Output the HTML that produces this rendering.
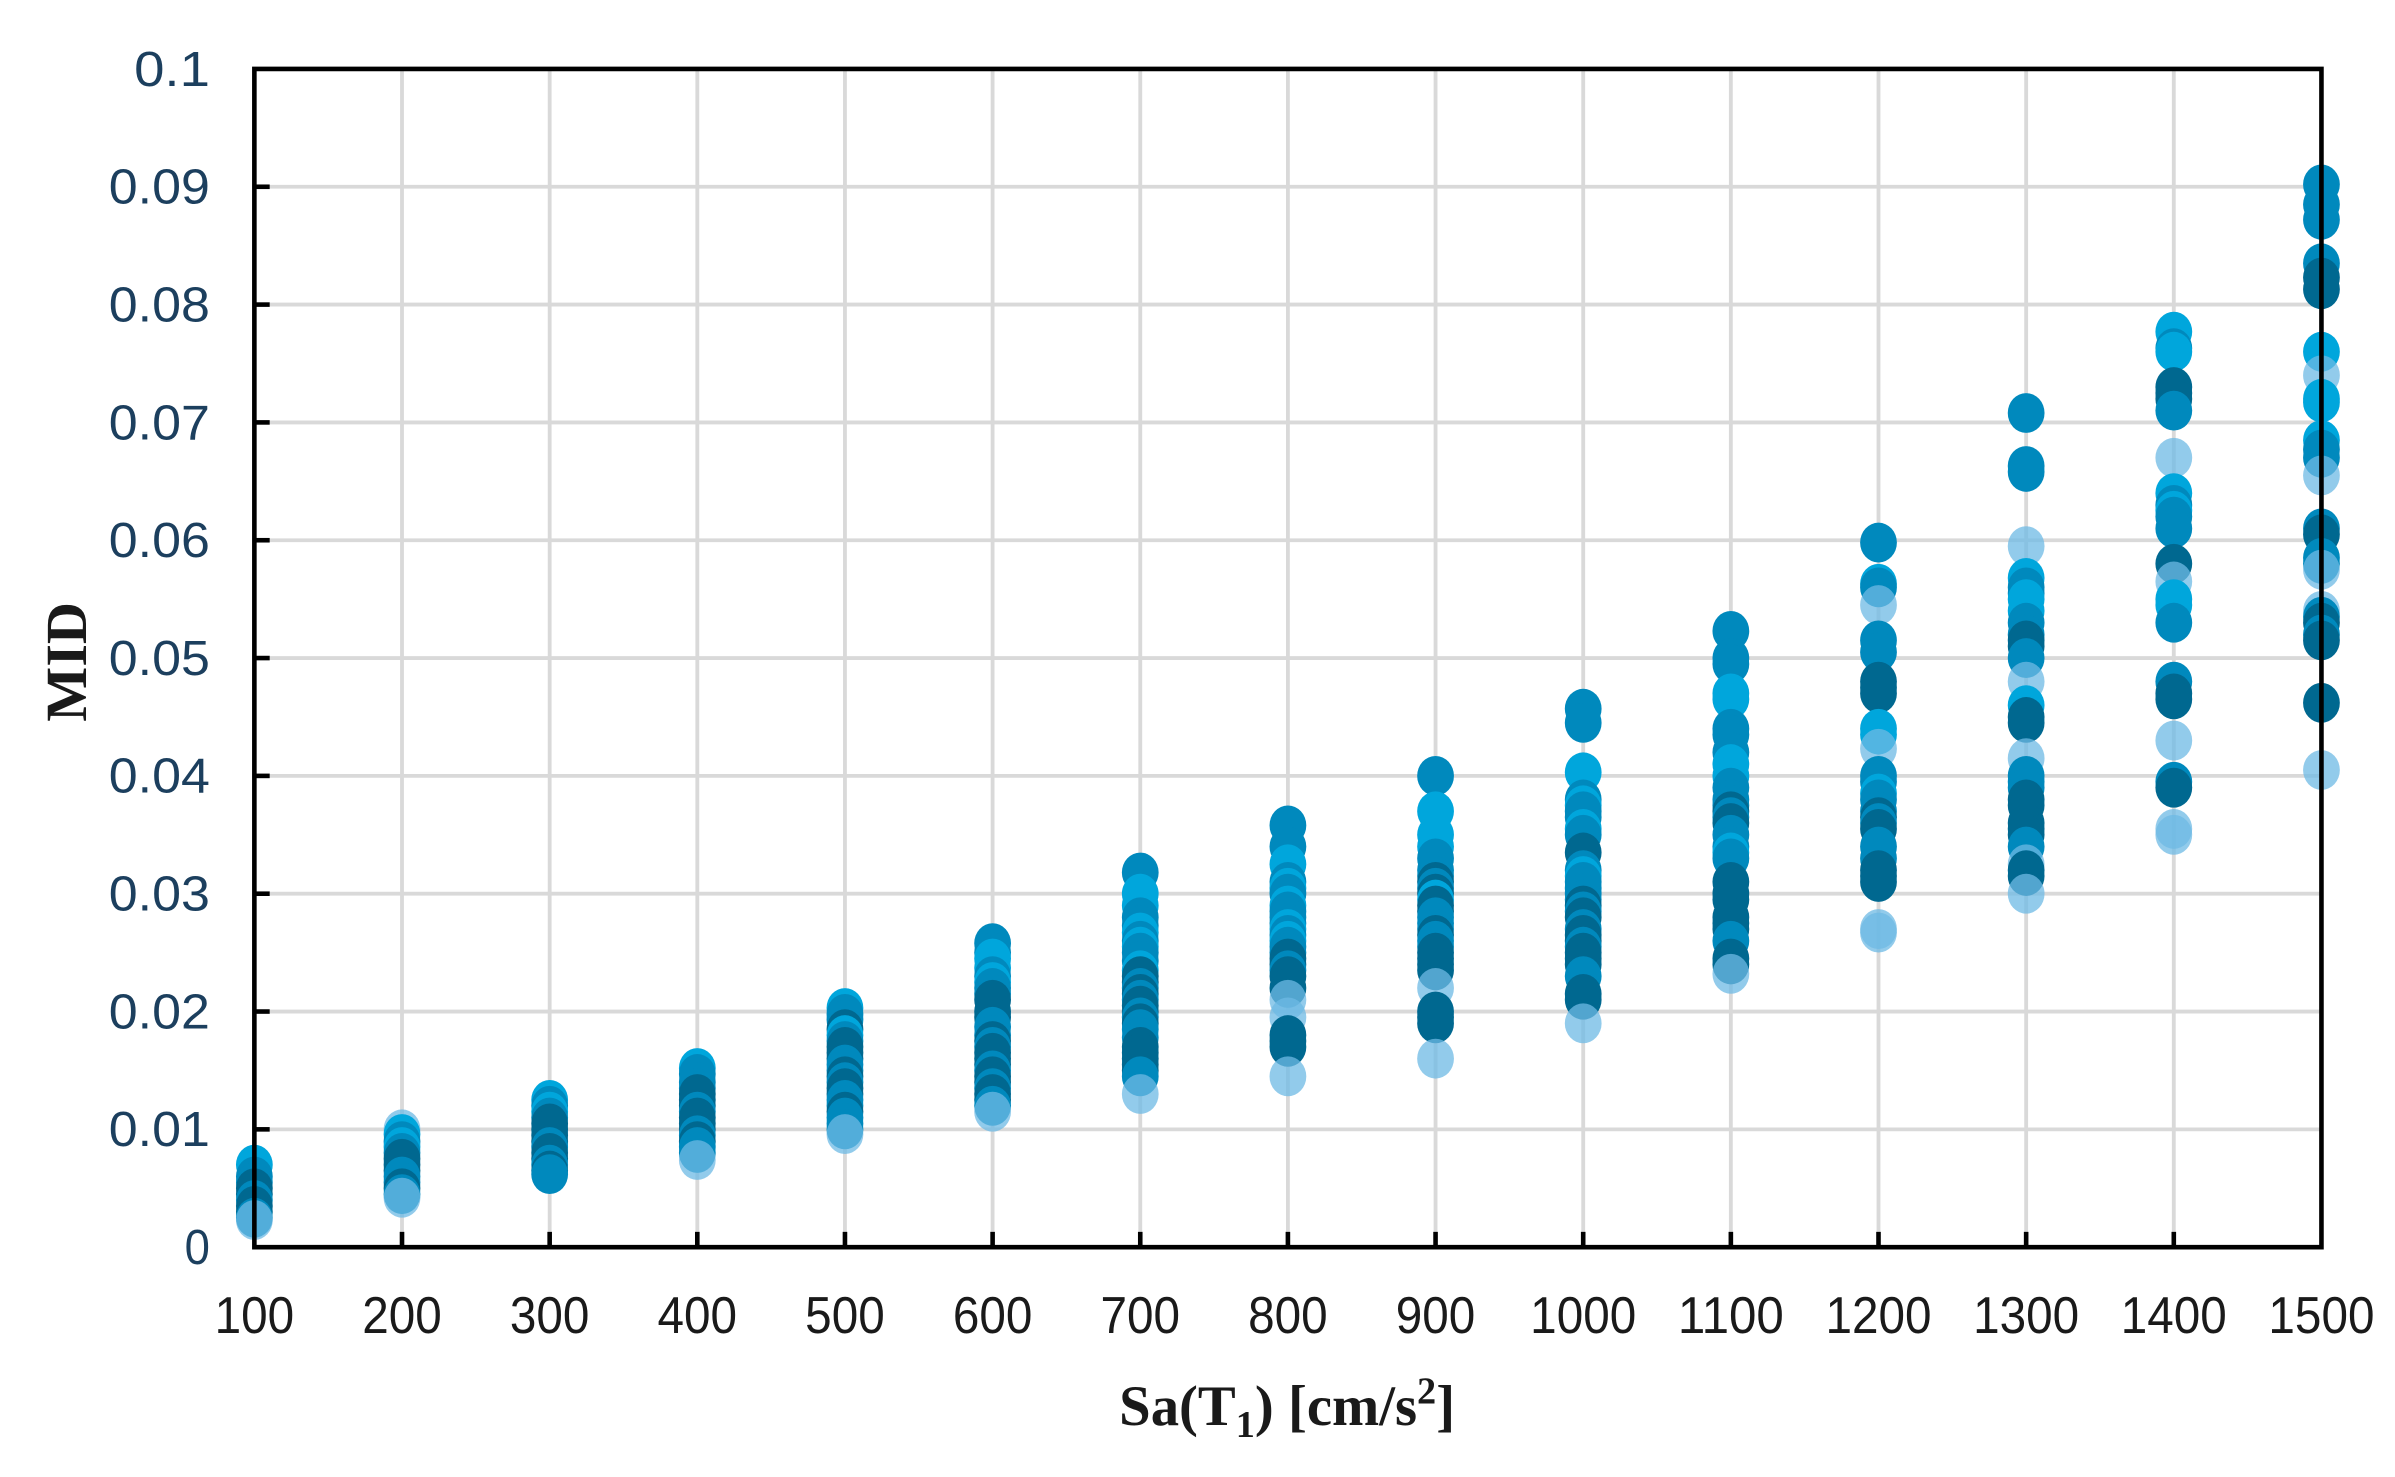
<!DOCTYPE html>
<html><head><meta charset="utf-8"><style>
html,body{margin:0;padding:0;background:#fff;width:2395px;height:1477px;overflow:hidden}
svg{display:block}
</style></head><body>
<svg id="s" width="2395" height="1477" viewBox="0 0 1563 964" preserveAspectRatio="none" xmlns="http://www.w3.org/2000/svg">
<g id="grid" stroke="#d9d9d9" stroke-width="2.5"></g>
<g id="dots"></g>
<g id="axes"></g>
<g id="labels"></g>
<text x="840" y="930" text-anchor="middle" font-family="Liberation Serif, serif" font-weight="bold" font-size="37" fill="#1a1a1a">Sa(T<tspan font-size="25" dy="8">1</tspan><tspan dy="-8">) [cm/s</tspan><tspan font-size="25" dy="-14">2</tspan><tspan dy="14">]</tspan></text>
<text transform="translate(56,432) rotate(-90)" text-anchor="middle" font-family="Liberation Serif, serif" font-weight="bold" font-size="38" fill="#1a1a1a">MID</text>
</svg>
<script>
const NS="http://www.w3.org/2000/svg";
const L=166,R=1515,T=45,B=814;
const X=v=>L+(v-100)/1400*(R-L), Y=v=>B-v/0.1*(B-T);
function el(p,t,a){const e=document.createElementNS(NS,t);for(const k in a)e.setAttribute(k,a[k]);document.getElementById(p).appendChild(e);return e;}
for(let v=200;v<=1400;v+=100)el("grid","line",{x1:X(v),x2:X(v),y1:T,y2:B});
for(let i=1;i<10;i++)el("grid","line",{x1:L,x2:R,y1:Y(i/100),y2:Y(i/100)});
const C={m:"#0089bd",d:"#006890",b:"#00a6dc",l:"rgba(110,185,228,0.75)"};
const data={
100:"b7 m6 m5.5 d5 d4.5 m4 d3.5 d3 m2.5 l2.3",
200:"l10 b9.6 m9 b8.5 m8 d7.5 d7 d6.5 m6 m5.5 d5 m4.5 l4.2",
300:"b12.5 m12 b11.5 m11 d10.5 d10 d9.5 d9 m8.5 d8 d7.5 m7 d6.5 m6.2",
400:"b15.2 m14.7 m14 m13.5 d13 d12.5 d12 m11.5 d11 d10.5 d10 m9.5 d9 m8.5 m8 l7.4",
500:"b20.3 m19.8 m19.3 d18.5 b18 m17.5 d17 d16.5 d16 m15.5 m15 d14.5 m14 d13.5 d13 m12.5 m12 d11.5 m11 m10.5 m10 l9.6",
600:"m25.8 m25 b24.5 b23.7 m23 b22.5 m22 m21.5 d21 d20 d19.5 m18.7 m18 d17.5 m17 d16.5 d16 d15.5 m15 d14.5 d14 m13.5 d13 d12.5 m12 l11.5",
700:"m31.8 b30 b29 m28 m27.3 b26.7 m26 b25.5 m25 m24.3 b23.5 d23 d22.5 m22 d21.5 m21 d20.5 d20 m19.5 d19 m18.5 m17.8 d17 d16.5 d16 d15.5 d15 m14.5 l13",
800:"m35.8 m34 b32.5 m31 b30.5 m30 b29 m28.5 m28 m27.5 b27 m26.5 b26 m25.5 m25 d24.5 d24 m23.5 d23 d22 l21 l19.5 d18 d17.5 d17 l14.5",
900:"m40 b37 b35 b34 m33 m32 m31.5 d31 m30.5 d30 b29.5 d29 d28.5 m28 m27.5 m27 d26.5 m26 m25.5 d25 d24.5 d24 d23.5 l22 d20 d19.5 d19 l16",
1000:"m45.7 m44.5 b40.3 m38 b37.5 m37 m36.5 b35.5 m35 d33.5 m32 b31.5 m31 m30.5 m30 m29.5 d29 m28.5 d28 m27 d26.5 d26 m25.5 d25 d24.5 d24 m23 d21.5 d21 l19",
1100:"m52.3 m50 m49.5 b47 b46.5 m44 m43.5 m42 b41 b40 m39 m38 m37.5 d37 m36.5 d36 m35 m34 b33.5 m33 d31 d30 d29.5 d28 d27.5 d27 m26 d24.5 d24 l23.2",
1200:"m59.8 b56.3 m56 l54.5 m51.5 m50.5 d48 d47.5 d47 b44 b43.5 l42.3 m40 m39.5 b38.5 m38 m37 d36.5 m36 d35.5 m34 m33 d32 d31.5 d31 l27 l26.7",
1300:"m70.8 m66.3 m65.8 l59.5 b56.8 m56 m55.5 b55 b54 m53 m52 d51.5 d51 m50 l48 b46 d45 d44.5 l41.5 m40 m39.5 m39 d38 d37.5 d36 d35.5 d35 m34 l32.5 d32 d31.5 l30",
1400:"b77.7 m76.3 b76 d73 d72.5 d72 m71 l67 b64 m63 b62.5 m62 m61 d58 l56.5 b55 b54.5 m53 m48 d47 d46.5 l43 m39.5 d39 l35.5 l35",
1500:"m90.2 m88.5 m87.2 m83.5 d82.3 d81.3 b76 l74 b72 b71.7 b68.5 m67.7 m67 l65.5 m61 d60.5 m58.5 m58 l57.5 l54 m53.5 d53 m52 d51.5 d46.2 l40.5"
};
for(const k in data){const x=X(+k);data[k].split(" ").forEach(s=>{const c=s[0],v=parseFloat(s.slice(1))/1000;el("dots","ellipse",{cx:x,cy:Y(v),rx:12,ry:13,fill:C[c]});});}
el("axes","path",{d:`M${L} ${T}H${R}V${B}H${L}Z`,fill:"none",stroke:"#000","stroke-width":3});
for(let v=200;v<=1400;v+=100)el("axes","line",{x1:X(v),x2:X(v),y1:B,y2:B-10,stroke:"#000","stroke-width":3});
for(let i=1;i<10;i++)el("axes","line",{x1:L,x2:L+10,y1:Y(i/100),y2:Y(i/100),stroke:"#000","stroke-width":3});
const yl=["0","0.01","0.02","0.03","0.04","0.05","0.06","0.07","0.08","0.09","0.1"];
yl.forEach((t,i)=>{const e=el("labels","text",{x:137,y:Y(i/100)+11,"text-anchor":"end","font-family":"Liberation Sans, sans-serif","font-size":32,fill:"#1c3f5e",textLength:t.length*16.5,lengthAdjust:"spacingAndGlyphs"});e.textContent=t;});
for(let v=100;v<=1500;v+=100){const t=String(v);const e=el("labels","text",{x:X(v),y:870,"text-anchor":"middle","font-family":"Liberation Sans, sans-serif","font-size":34,fill:"#1a1a1a",textLength:t.length*17.3,lengthAdjust:"spacingAndGlyphs"});e.textContent=t;}
</script>
</body></html>
